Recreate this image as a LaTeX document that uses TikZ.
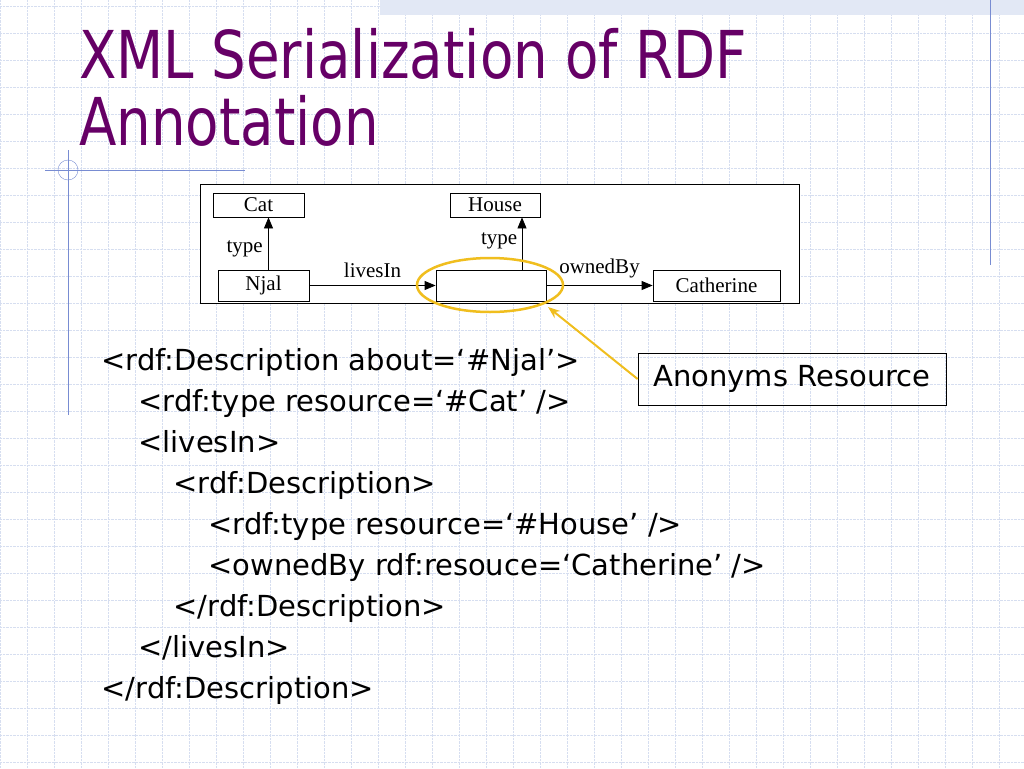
\documentclass[tikz,border=0pt]{standalone}
\usepackage{fontspec}
\setmainfont{DejaVu Sans}
\newfontfamily\titlefont{DejaVu Sans Condensed}
\newfontfamily\serif{Liberation Serif}
\usetikzlibrary{arrows.meta}
\definecolor{gridblue}{RGB}{214,222,240}
\definecolor{lineblue}{RGB}{120,140,210}
\definecolor{titlepurple}{RGB}{102,0,102}
\definecolor{annoyellow}{RGB}{240,190,30}
\tikzset{
  rdfbox/.style={draw,thick,inner sep=0pt,font=\serif\fontsize{21}{21}\selectfont},
  rdfedge/.style={thick,-{Triangle[length=11pt,width=9pt]}},
  elabel/.style={font=\serif\fontsize{21}{21}\selectfont},
  codeline/.style={anchor=base west,font=\fontsize{29}{29}\selectfont},
  titleline/.style={anchor=base west,text=titlepurple,xscale=0.92,font=\titlefont\fontsize{66}{66}\selectfont}
}
\begin{document}
\begin{tikzpicture}[x=1pt,y=-1pt]
  \useasboundingbox (0,0) rectangle (1024,768);
  % background grid
  \foreach \i in {0,...,38} \draw[gridblue,densely dotted] (\i*27,0)--(\i*27,768);
  \foreach \j in {0,...,28} \draw[gridblue,densely dotted] (0,\j*27+6)--(1024,\j*27+6);
  \fill[gridblue!70] (380,0) rectangle (1024,15);
  \draw[lineblue] (990,0)--(990,265);
  \draw[lineblue] (45,170)--(245,170);
  \draw[lineblue] (68,150)--(68,415);
  \draw[lineblue] (68,170) circle (10);
  % title
  \node[titleline] (title1) at (76,78) {XML Serialization of RDF};
  \node[titleline] (title2) at (76,145) {Annotation};
  % graph
  \draw[fill=white,thick] (200,184) rectangle (799,303);
  \node[rdfbox,minimum width=91,minimum height=24] (cat) at (258.5,205) {Cat};
  \node[rdfbox,minimum width=90,minimum height=24] (house) at (495,205) {House};
  \node[rdfbox,minimum width=91,minimum height=31] (njal) at (263.5,285.5) {Njal};
  \node[rdfbox,minimum width=110,minimum height=31] (anon) at (491,285.5) {};
  \node[rdfbox,minimum width=127,minimum height=31] (cath) at (716.5,285.5) {Catherine};
  \draw[rdfedge] ([xshift=10pt]cat.south |- njal.north) -- node[elabel,left,xshift=-2pt,pos=0.4] {type} ([xshift=10pt]cat.south);
  \draw[rdfedge] ([xshift=27pt]house.south |- anon.north) -- node[elabel,left,xshift=-1pt,pos=0.55] {type} ([xshift=27pt]house.south);
  \draw[rdfedge] (njal.east) -- node[elabel,above,yshift=4pt] {livesIn} (anon.west);
  \draw[rdfedge] (anon.east) -- node[elabel,above,yshift=4pt] {ownedBy} (cath.west);
  % annotation
  \draw[annoyellow,line width=2.5pt] (490,285) ellipse (73 and 27);
  \node[draw,thick,minimum width=308,minimum height=52,font=\fontsize{29}{29}\selectfont] (anno) at (792,379) {Anonyms Resource};
  \coordinate (ellend) at (548,307);
  \draw[annoyellow,line width=2pt,-{Stealth[length=12pt,width=9pt]}] (anno.west) -- (ellend);
  % code
  \node[codeline] (l1) at (98,370) {<rdf:Description about=‘\#Njal’>};
  \node[codeline] (l2) at (135,411) {<rdf:type resource=‘\#Cat’ />};
  \node[codeline] (l3) at (135,452) {<livesIn>};
  \node[codeline] (l4) at (170,493) {<rdf:Description>};
  \node[codeline] (l5) at (205,534) {<rdf:type resource=‘\#House’ />};
  \node[codeline] (l6) at (205,575) {<ownedBy rdf:resouce=‘Catherine’ />};
  \node[codeline] (l7) at (170,616) {</rdf:Description>};
  \node[codeline] (l8) at (135,657) {</livesIn>};
  \node[codeline] (l9) at (98,698) {</rdf:Description>};
\end{tikzpicture}
\end{document}
